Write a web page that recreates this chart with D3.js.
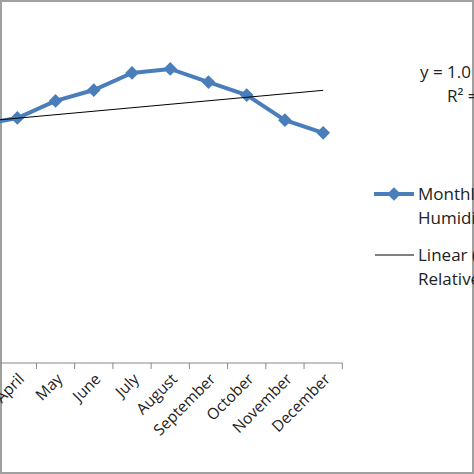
<!DOCTYPE html><html><head><script src="https://cdn.jsdelivr.net/npm/d3@7"></script>
<style>body{margin:0;background:#fff}svg{display:block}</style></head><body><script>
const months=["January","February","March","April","May","June","July","August","September","October","November","December"];
const humidity=[58,62,65.6,67.5,72.2,75.2,79.9,81.0,77.4,73.8,66.9,63.4];
const trend=[0.96,63.6]; // slope, intercept (x = month index 1..12)
const svg=d3.select("body").append("svg").attr("width",474).attr("height",474);
svg.append("rect").attr("x",1).attr("y",1).attr("width",472).attr("height",472).attr("fill","#fff").attr("stroke","#a0a0a0").attr("stroke-width",2);
const font="'Open Sans', sans-serif";
const x=d3.scaleBand().domain(months).range([-116.5,342.3]);
const y=d3.scaleLinear().domain([0,100]).range([363,0]);
const cx=m=>x(m)+x.bandwidth()/2;
svg.selectAll("line.tk").data(d3.range(13)).enter().append("line").attr("x1",i=>x.range()[0]+i*x.step()).attr("x2",i=>x.range()[0]+i*x.step()).attr("y1",363).attr("y2",369).attr("stroke","#888");
svg.append("line").attr("x1",x.range()[0]).attr("x2",x.range()[1]).attr("y1",363).attr("y2",363).attr("stroke","#888");
svg.selectAll("text.ml").data(months).enter().append("text").attr("font-family",font).attr("font-size",15.5).attr("fill","#222")
 .attr("text-anchor","end").attr("transform",m=>`translate(${cx(m)+8},${380}) rotate(-45)`).text(m=>m);
svg.append("path").attr("fill","none").attr("stroke","#4a7ebb").attr("stroke-width",4)
 .attr("d",d3.line().x((d,i)=>cx(months[i])).y(d=>y(d))(humidity));
svg.selectAll("path.pt").data(humidity).enter().append("path").attr("fill","#4a7ebb")
 .attr("d",d3.symbol(d3.symbolDiamond2,120)).attr("transform",(d,i)=>`translate(${cx(months[i])},${y(d)})`);
svg.append("line").attr("stroke","#000").attr("stroke-width",1)
 .attr("x1",cx(months[0])).attr("y1",y(trend[0]*1+trend[1])).attr("x2",cx(months[11])).attr("y2",y(trend[0]*12+trend[1]));
svg.append("text").attr("x",420).attr("y",78).attr("font-family",font).attr("font-size",17).attr("fill","#222").text("y = 1.0");
svg.append("text").attr("x",447).attr("y",102).attr("font-family",font).attr("font-size",17).attr("fill","#222").text("R² =");
svg.append("line").attr("x1",374).attr("x2",414).attr("y1",194).attr("y2",194).attr("stroke","#4a7ebb").attr("stroke-width",4);
svg.append("path").attr("fill","#4a7ebb").attr("d",d3.symbol(d3.symbolDiamond2,120)).attr("transform","translate(394,194)");
svg.append("line").attr("x1",375).attr("x2",414).attr("y1",255).attr("y2",255).attr("stroke","#000");
[["Monthly",200],["Humidity",224],["Linear (Monthly",261],["Relative Humidity)",285]].forEach(([t,yy])=>
 svg.append("text").attr("x",418).attr("y",yy).attr("font-family",font).attr("font-size",17).attr("fill","#222").text(t));
</script></body></html>
